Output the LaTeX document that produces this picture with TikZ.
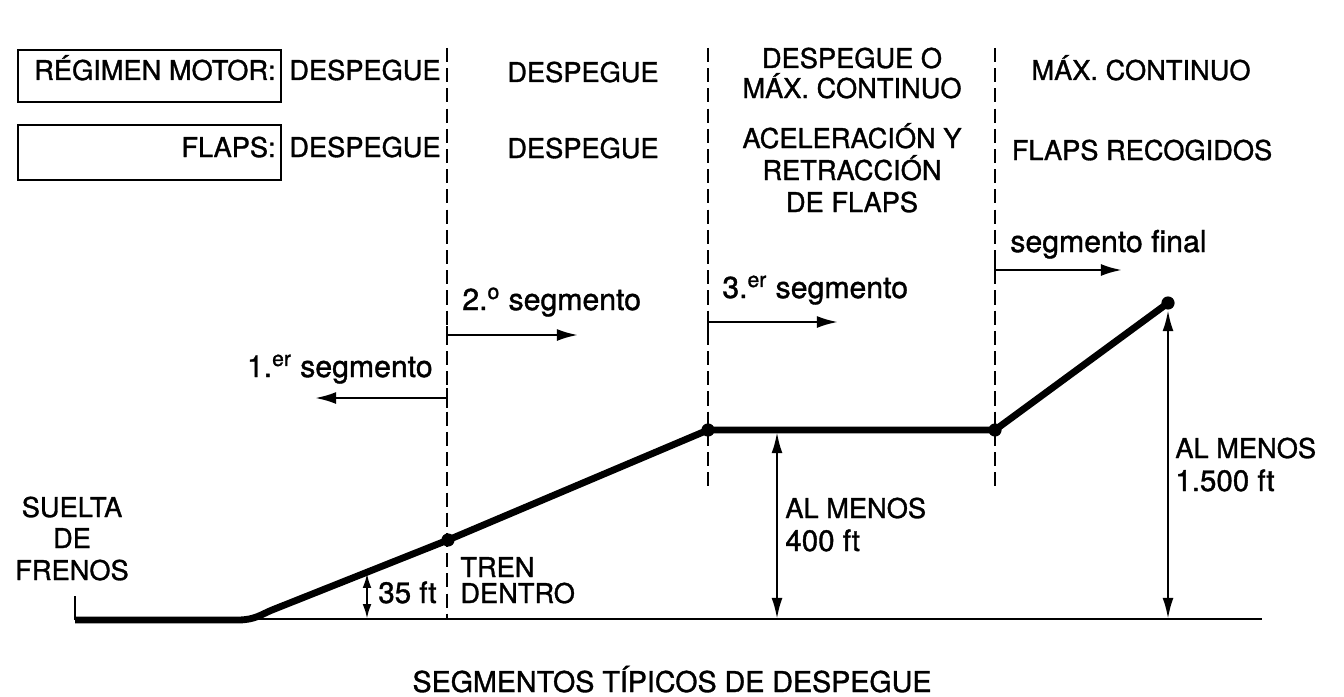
\documentclass[tikz,border=0pt]{standalone}
\usepackage{fontspec}
\setmainfont{TeX Gyre Heros}[FakeBold=1.2]
\usetikzlibrary{arrows.meta}
\begin{document}
\begin{tikzpicture}[x=0.02cm,y=-0.02cm,
  txt/.style={font=\fontsize{15.5}{18}\selectfont, inner sep=0pt, anchor=base},
  txtw/.style={txt, anchor=base west},
  txte/.style={txt, anchor=base east},
  lower/.style={font=\fontsize{17.2}{20}\selectfont},
  ftlab/.style={font=\fontsize{16.8}{20}\selectfont},
  dline/.style={line width=1.6pt, dash pattern=on 8pt off 3.5pt},
  thinline/.style={line width=1.4pt},
  flight/.style={line width=3.9pt, line join=round},
  arr/.style={thinline, -{Latex[length=12pt,width=6.8pt]}},
  darr/.style={thinline, {Latex[length=12pt,width=6.2pt]}-{Latex[length=12pt,width=6.2pt]}},
  sdarr/.style={thinline, {Latex[length=8.5pt,width=5pt]}-{Latex[length=8.5pt,width=5pt]}},
  dot/.style={circle, fill, inner sep=0pt, minimum size=7.5pt},
  boxline/.style={line width=1.4pt}]
\useasboundingbox (0,0) rectangle (1344,696);

% boxes
\draw[boxline] (18,50) rectangle (281,102);
\draw[boxline] (18,125) rectangle (281,180);
\node[txte] (lreg) at (276,80) {RÉGIMEN MOTOR:};
\node[txte] (lflp) at (276,157) {FLAPS:};

% column texts
\node[txt] (c1a) at (365,80) {DESPEGUE};
\node[txt] (c1b) at (365,157) {DESPEGUE};
\node[txt] (c2a) at (583,82) {DESPEGUE};
\node[txt] (c2b) at (583,158) {DESPEGUE};
\node[txt] (c3a) at (852,68) {DESPEGUE O};
\node[txt] (c3b) at (852,98) {MÁX. CONTINUO};
\node[txt] (c3c) at (852,148) {ACELERACIÓN Y};
\node[txt] (c3d) at (852,180) {RETRACCIÓN};
\node[txt] (c3e) at (852,212) {DE FLAPS};
\node[txt] (c4a) at (1141,80) {MÁX. CONTINUO};
\node[txt] (c4b) at (1142,160) {FLAPS RECOGIDOS};

% dashed phase lines
\coordinate (v1t) at (447,48); \coordinate (v1b) at (447,619);
\coordinate (v2t) at (708,48); \coordinate (v2b) at (708,486);
\coordinate (v3t) at (995,48); \coordinate (v3b) at (995,486);
\draw[dline] (v1t) -- (v1b);
\draw[dline] (v2t) -- (v2b);
\draw[dline] (v3t) -- (v3b);

% ground
\coordinate (g0) at (75,619); \coordinate (g1) at (1262,619);
\draw[thinline] (g0) -- (g1);

% flight path
\coordinate (r0) at (75,620); \coordinate (rt) at (75,596);
\coordinate (r1) at (238,620); \coordinate (r2) at (272,610);
\coordinate (p1) at (448,540); \coordinate (p2) at (708,430);
\coordinate (p3) at (995,430); \coordinate (p4) at (1168,303);
\draw[thinline] (r0) -- (rt);
\draw[flight] (r0) -- (r1) .. controls (255,620) and (262,614) .. (r2) -- (p1) -- (p2) -- (p3) -- (p4);
\node[dot] (d1) at (p1) {};
\node[dot] (d2) at (p2) {};
\node[dot] (d3) at (p3) {};
\node[dot] (d4) at (p4) {};

% segment arrows
\coordinate (a1s) at (447,398); \coordinate (a1e) at (315,398);
\coordinate (t1a) at (447,388); \coordinate (t1b) at (447,408);
\draw[thinline] (t1a) -- (t1b);
\draw[arr] (a1s) -- (a1e);
\node[txte, lower] (s1) at (433,377) {1.\textsuperscript{er} segmento};

\coordinate (a2s) at (447,335); \coordinate (a2e) at (578,335);
\coordinate (t2a) at (447,326); \coordinate (t2b) at (447,344);
\draw[thinline] (t2a) -- (t2b);
\draw[arr] (a2s) -- (a2e);
\node[txtw, lower] (s2) at (462,310) {2.\textsuperscript{o} segmento};

\coordinate (a3s) at (708,322); \coordinate (a3e) at (838,322);
\coordinate (t3b) at (708,340);
\draw[thinline] (t3b) -- (a3s);
\draw[arr] (a3s) -- (a3e);
\node[txtw, lower] (s3) at (722,298) {3.\textsuperscript{er} segmento};

\coordinate (a4s) at (995,270); \coordinate (a4e) at (1122,270);
\coordinate (t4a) at (995,255);
\draw[thinline] (t4a) -- (a4s);
\draw[arr] (a4s) -- (a4e);
\node[txtw, lower] (s4) at (1010,252) {segmento final};

% height arrows
\coordinate (h1t) at (367,573); \coordinate (h1b) at (367,619);
\draw[sdarr] (h1t) -- (h1b);
\node[txtw, ftlab] (l35) at (378,603) {35 ft};
\coordinate (h2t) at (777,432); \coordinate (h2b) at (777,619);
\draw[darr] (h2t) -- (h2b);
\node[txtw] (l400a) at (785,518) {AL MENOS};
\node[txtw, ftlab] (l400b) at (785,551) {400 ft};
\coordinate (h3t) at (1168,310); \coordinate (h3b) at (1168,619);
\draw[darr] (h3t) -- (h3b);
\node[txtw] (l1500a) at (1175,458) {AL MENOS};
\node[txtw, ftlab] (l1500b) at (1175,491) {1.500 ft};

% labels
\node[txtw] (tren) at (460,577) {TREN};
\node[txtw] (dentro) at (460,603) {DENTRO};
\node[txt] (su1) at (72,517) {SUELTA};
\node[txt] (su2) at (72,548) {DE};
\node[txt] (su3) at (72,580) {FRENOS};

\node[txt, font=\fontsize{16.3}{19}\selectfont] (title) at (672,692) {SEGMENTOS TÍPICOS DE DESPEGUE};
\end{tikzpicture}
\end{document}
